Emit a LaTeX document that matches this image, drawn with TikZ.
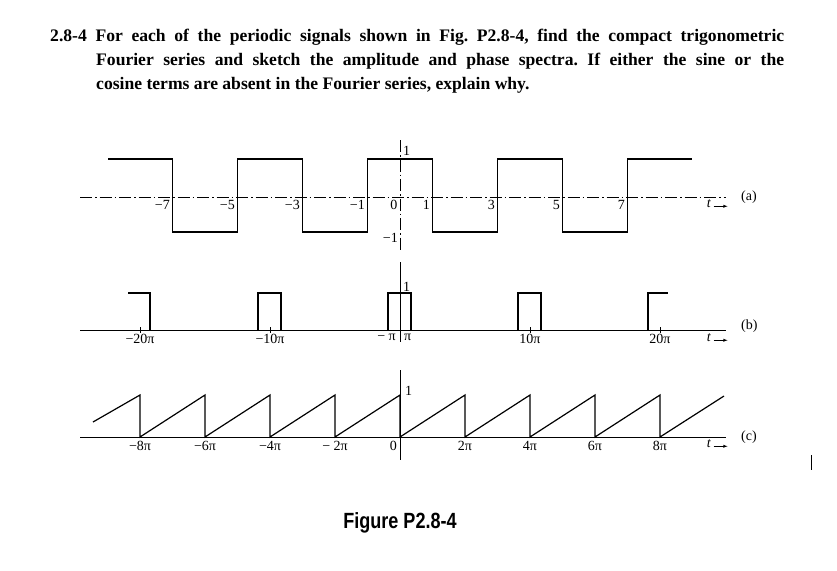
\documentclass[tikz,border=0pt]{standalone}
\usepackage{fontspec}
\setmainfont{Liberation Serif}
\setsansfont{Liberation Sans}
\frenchspacing
\begin{document}
\begin{tikzpicture}[x=1pt,y=-1pt,
  sig/.style={line width=1.5pt},
  ax/.style={line width=0.5pt},
  dd/.style={line width=0.5pt,dash pattern=on 12pt off 3pt on 1.5pt off 3pt},
  lab/.style={font=\fontsize{14}{15}\selectfont,inner sep=1pt},
  ttl/.style={font=\bfseries\fontsize{17.6}{19}\selectfont,anchor=base west,inner sep=0pt}]
\useasboundingbox (0,0) rectangle (837,570);
\node[ttl] (l1) at (50,41) {\makebox[734pt][s]{2.8-4 For each of the periodic signals shown in Fig. P2.8-4, find the compact trigonometric}};
\node[ttl] (l2) at (96,65) {\makebox[688pt][s]{Fourier series and sketch the amplitude and phase spectra. If either the sine or the}};
\node[ttl] (l3) at (96,89) {cosine terms are absent in the Fourier series, explain why.};
\newcommand{\tarr}{\textit{t}\,\raisebox{0.25ex}{\tikz[baseline]\draw[-latex,line width=0.5pt] (0,0) -- (14pt,0);}}
% (a)
\begin{scope}[xshift=400pt]
\draw[dd] (-320,197) -- (326,197);
\draw[dd] (0,140) -- (0,250);
\draw[sig] (-292,159) -- (-227.5,159) -- (-227.5,232) -- (-162.5,232) -- (-162.5,159) -- (-97.5,159) -- (-97.5,232) -- (-32.5,232) -- (-32.5,159) -- (32.5,159) -- (32.5,232) -- (97.5,232) -- (97.5,159) -- (162.5,159) -- (162.5,232) -- (227.5,232) -- (227.5,159) -- (292,159);
\foreach \v/\x in {−7/-227.5,−5/-162.5,−3/-97.5,−1/-32.5,0/0,1/32.5,3/97.5,5/162.5,7/227.5}
  \node[lab,anchor=north east] at (\x-1.5,199) {\v};
\node[lab,anchor=west] at (2,151) {1};
\node[lab,anchor=east] at (-1,238) {−1};
\node[lab,anchor=east] (ta) at (329,204) {\tarr};
\node[lab,anchor=west] (a) at (340,197) {(a)};
% (b)
\draw[ax] (-320,330) -- (326,330);
\draw[ax] (0,262) -- (0,342);
\draw[sig,line width=1.2pt] (-272,293) -- (-250,293) -- (-250,330);
\foreach \c in {-130,0,130}
  \draw[sig,line width=1.2pt] (\c-12,330) -- (\c-12,293) -- (\c+11,293) -- (\c+11,330);
\draw[sig,line width=1.2pt] (248,330) -- (248,293) -- (268,293);
\foreach \x in {-260,-130,130,260} \draw[ax] (\x,327) -- (\x,333);
\foreach \v/\x in {−20π/-260,−10π/-130,10π/130,20π/260}
  \node[lab,anchor=north] at (\x,333) {\v};
\node[lab,anchor=north east] at (-3,333) {− π};
\node[lab,anchor=north west] at (3,333) {π};
\node[lab,anchor=west] at (2,287) {1};
\node[lab,anchor=east] (tb) at (329,338) {\tarr};
\node[lab,anchor=west] (b) at (340,326) {(b)};
% (c)
\draw[ax] (-320,437) -- (326,437);
\draw[ax] (0,370) -- (0,460);
\draw[sig,line width=1.2pt] (-307,422) -- (-260,395) -- (-260,437)
  \foreach \i in {0,...,7} { -- (-260+65*\i,437) -- (-195+65*\i,395) -- (-195+65*\i,437)} -- (324,396);
\foreach \v/\x in {−8π/-260,−6π/-195,−4π/-130,− 2π/-65,2π/65,4π/130,6π/195,8π/260}
  \node[lab,anchor=north] at (\x,440) {\v};
\node[lab,anchor=north east] at (-2,440) {0};
\node[lab,anchor=west] at (4,391) {1};
\node[lab,anchor=east] (tc) at (329,444) {\tarr};
\node[lab,anchor=west] (c) at (340,437) {(c)};
\end{scope}
\draw[ax] (811,455) -- (811,470);
% caption
\node[font=\sffamily\bfseries\fontsize{22}{24}\selectfont] (cap) at (400,523) {\scalebox{0.82}[1]{Figure P2.8-4}};
\end{tikzpicture}
\end{document}
